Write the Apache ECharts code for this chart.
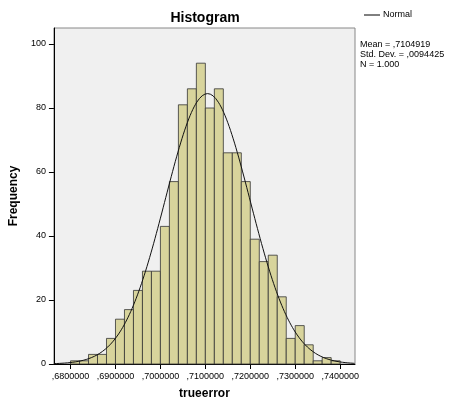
<!DOCTYPE html>
<html><head><meta charset="utf-8">
<script src="https://cdn.jsdelivr.net/npm/echarts@6/dist/echarts.min.js"></script>
<style>html,body{margin:0;padding:0;background:#fff}#c{width:474px;height:409px}</style>
</head><body><div id="c"></div>
<script>
const binStart = 0.680;
const binWidth = 0.002;
const counts = [1,1,3,3,8,14,17,23,29,29,43,57,81,86,94,80,86,66,66,57,39,32,34,21,8,12,6,1,2,1];
const xTicks = [0.68,0.69,0.70,0.71,0.72,0.73,0.74];
const yTicks = [0,20,40,60,80,100];
const mean = 0.7104919, sd = 0.0094425, n = 1000;
const statsText = ['Mean = ,7104919','Std. Dev. = ,0094425','N = 1.000'];

const bars = counts.map((c,i)=>[binStart+i*binWidth, binStart+(i+1)*binWidth, c]);
const curve = [];
for (let x=0.6763; x<=0.7433; x+=0.0003) {
  curve.push([x, n*binWidth*Math.exp(-0.5*((x-mean)/sd)**2)/(sd*Math.sqrt(2*Math.PI))]);
}
const fmt = v => ',' + v.toFixed(7).split('.')[1];
const chart = echarts.init(document.getElementById('c'));
chart.setOption({
  animation:false,
  title:{text:'Histogram',left:200,top:6,textAlign:'center',textStyle:{fontFamily:'Arial, Liberation Sans',fontSize:14,fontWeight:'bold',color:'#000'}},
  graphic:[
    {type:'line',shape:{x1:364,y1:15,x2:380,y2:15},style:{stroke:'#000',lineWidth:1}},
    {type:'text',left:383,top:10,style:{text:'Normal',font:'9px Arial, Liberation Sans',fill:'#000'}},
    {type:'text',left:360,top:40,style:{text:statsText.join('\n'),font:'9px Arial, Liberation Sans',fill:'#000',lineHeight:10}}
  ],
  grid:{left:47,right:119,top:28,bottom:45,show:true,backgroundColor:'#f0f0f0',borderColor:'#888',borderWidth:1},
  xAxis:{type:'value',min:0.6763,max:0.7433,name:'trueerror',nameLocation:'middle',nameGap:24,
    nameTextStyle:{fontFamily:'Arial, Liberation Sans',fontWeight:'bold',fontSize:12,color:'#000'},
    axisLine:{lineStyle:{color:'#000'}},splitLine:{show:false},
    axisTick:{customValues:xTicks,lineStyle:{color:'#000'}},
    axisLabel:{customValues:xTicks,formatter:fmt,fontSize:9,color:'#000',fontFamily:'Arial, Liberation Sans'}},
  yAxis:{type:'value',min:0,max:105,name:'Frequency',nameLocation:'middle',nameGap:21,
    nameTextStyle:{fontFamily:'Arial, Liberation Sans',fontWeight:'bold',fontSize:12,color:'#000'},
    axisLine:{show:true,lineStyle:{color:'#000'}},splitLine:{show:false},
    axisTick:{show:true,customValues:yTicks,lineStyle:{color:'#000'}},
    axisLabel:{customValues:yTicks,fontSize:9,color:'#000',fontFamily:'Arial, Liberation Sans'}},
  series:[
    {type:'custom',data:bars,encode:{x:[0,1],y:2},
      renderItem:(params,api)=>{
        const p0=api.coord([api.value(0),api.value(2)]);
        const p1=api.coord([api.value(1),0]);
        return {type:'rect',shape:{x:p0[0],y:p0[1],width:p1[0]-p0[0],height:p1[1]-p0[1]},
          style:{fill:'#d8d49c',stroke:'#333',lineWidth:0.8}};
      }},
    {type:'line',data:curve,showSymbol:false,smooth:false,lineStyle:{color:'#111',width:1}}
  ]
});
</script></body></html>
